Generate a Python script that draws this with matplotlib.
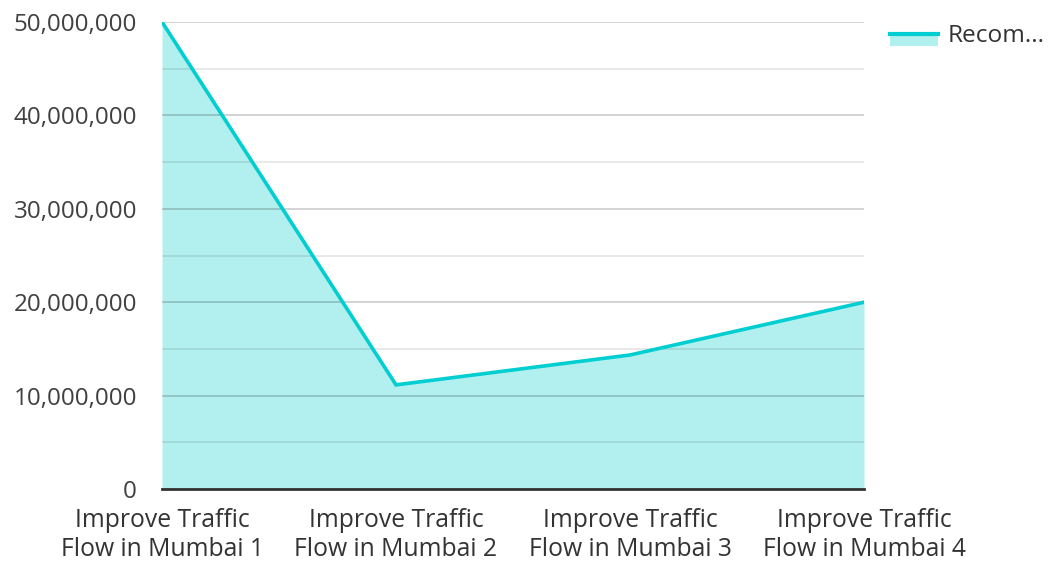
import matplotlib.pyplot as plt
from matplotlib.ticker import FuncFormatter, MultipleLocator
from matplotlib.patches import Rectangle
from matplotlib.lines import Line2D

plt.rcParams['font.family'] = ['Open Sans', 'Noto Sans', 'DejaVu Sans']

categories = ["Improve Traffic\nFlow in Mumbai 1", "Improve Traffic\nFlow in Mumbai 2",
              "Improve Traffic\nFlow in Mumbai 3", "Improve Traffic\nFlow in Mumbai 4"]
values = [50000000, 11150000, 14350000, 20000000]
series_name = "Recom..."

line_col = "#00CED1"
fill_col = "#B2EFEF"

W, H = 1050, 561
fig = plt.figure(figsize=(W / 100, H / 100), dpi=100)
ax = fig.add_axes([0.1543, 0.1283, 0.6686, 0.8325])

x = list(range(len(values)))
ax.fill_between(x, values, 0, color=fill_col, linewidth=0, zorder=2)
ax.plot(x, values, color=line_col, linewidth=2.6, zorder=3, solid_joinstyle='miter')

ax.set_xlim(0, len(values) - 1)
ax.set_ylim(0, 50000000)
ax.yaxis.set_major_locator(MultipleLocator(10000000))
ax.yaxis.set_minor_locator(MultipleLocator(5000000))
ax.yaxis.set_major_formatter(FuncFormatter(lambda v, p: f"{int(v):,}"))
ax.grid(axis='y', which='major', color='black', alpha=0.2, linewidth=1.2, zorder=4)
ax.grid(axis='y', which='minor', color='black', alpha=0.1, linewidth=1.2, zorder=4)
ax.set_axisbelow(False)

ax.set_xticks(x)
ax.set_xticklabels(categories, fontsize=17.8, color='#333333', linespacing=1.2)
ax.tick_params(axis='y', which='both', length=0, labelsize=17.4, colors='#404040', pad=18)
ax.tick_params(axis='x', length=0, pad=14)

for s in ['top', 'right', 'left']:
    ax.spines[s].set_visible(False)
ax.spines['bottom'].set_color('#333333')
ax.spines['bottom'].set_linewidth(2)
ax.spines['bottom'].set_zorder(5)

# legend drawn by hand: filled box with the line on its top edge
fig.add_artist(Rectangle((890 / W, 1 - 46 / H), 48 / W, 13 / H, transform=fig.transFigure,
                         facecolor=fill_col, edgecolor='none'))
fig.add_artist(Line2D([890 / W, 938 / W], [1 - 34 / H, 1 - 34 / H], transform=fig.transFigure,
                      color=line_col, linewidth=3))
fig.text(948 / W, 1 - 36 / H, series_name, fontsize=17.6, color='#333333',
         ha='left', va='center')

fig.savefig("out.png", dpi=100)
